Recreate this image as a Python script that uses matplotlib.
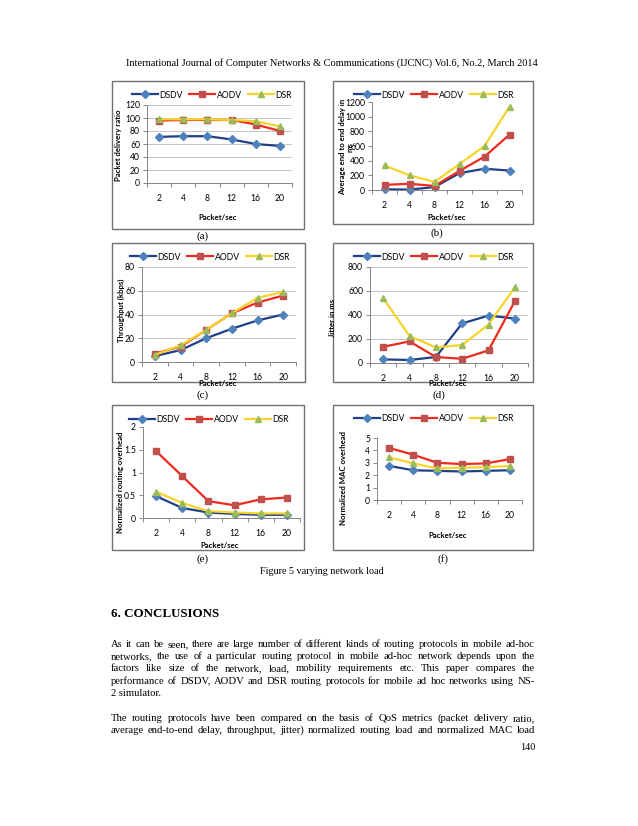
import matplotlib.pyplot as plt
from matplotlib.patches import Rectangle
from matplotlib.font_manager import FontProperties
import numpy as np

W, H = 638, 826
fig = plt.figure(figsize=(W / 100, H / 100), dpi=100)


def fx(x):
    return x / W


def fy(y):
    return 1 - y / H


# data
x_labels = ['2', '4', '8', '12', '16', '20']
names = ['DSDV', 'AODV', 'DSR']

pdr_dsdv = [71, 72, 72, 67, 60, 57]
pdr_aodv = [96, 97, 97, 97, 90, 80]
pdr_dsr = [98, 98, 98, 97, 95, 87]

delay_dsdv = [10, 5, 40, 230, 290, 265]
delay_aodv = [70, 85, 55, 260, 455, 755]
delay_dsr = [335, 200, 110, 355, 600, 1135]

thr_dsdv = [5, 10, 20, 28, 35, 40]
thr_aodv = [7, 13, 27, 41, 50, 56]
thr_dsr = [6, 14, 27, 41, 54, 59]

jit_dsdv = [30, 25, 50, 330, 395, 370]
jit_aodv = [135, 180, 50, 35, 105, 515]
jit_dsr = [540, 225, 130, 150, 320, 630]

nrl_dsdv = [0.48, 0.22, 0.12, 0.09, 0.07, 0.07]
nrl_aodv = [1.47, 0.92, 0.37, 0.28, 0.41, 0.45]
nrl_dsr = [0.58, 0.33, 0.15, 0.12, 0.10, 0.10]

mac_dsdv = [2.75, 2.4, 2.35, 2.3, 2.35, 2.4]
mac_aodv = [4.2, 3.65, 3.0, 2.9, 2.95, 3.3]
mac_dsr = [3.45, 2.95, 2.55, 2.6, 2.65, 2.75]

# styles: line colour, marker colour, marker, size
styles = [('#1f3f86', '#4f81bd', 'D', 3.6),
          ('#ee2a1c', '#c0504d', 's', 4.6),
          ('#f7d42a', '#9bbb59', '^', 4.8)]

panels = [
    dict(series=(pdr_dsdv, pdr_aodv, pdr_dsr), ymax=120, step=20,
         ylabel='Packet delivery ratio', box=(112, 81, 304, 229),
         plot=(147, 105, 292, 183), grid=True, leg=(212, 95),
         ylab=(118, 145), xlab=(218, 217), tag='(a)', tagpos=(203, 236)),
    dict(series=(delay_dsdv, delay_aodv, delay_dsr), ymax=1200, step=200,
         ylabel='Average end to end delay in\nms', box=(333, 81, 533, 224),
         plot=(372, 102, 522, 190), grid=False, leg=(434, 95),
         ylab=(346, 147), xlab=(447, 217), tag='(b)', tagpos=(437, 233)),
    dict(series=(thr_dsdv, thr_aodv, thr_dsr), ymax=80, step=20,
         ylabel='Throughput (kbps)', box=(112, 243, 305, 382),
         plot=(142, 267, 296, 362), grid=True, leg=(210, 257),
         ylab=(121, 310), xlab=(218, 383), tag='(c)', tagpos=(203, 395)),
    dict(series=(jit_dsdv, jit_aodv, jit_dsr), ymax=800, step=200,
         ylabel='Jitter in ms', box=(333, 243, 533, 382),
         plot=(370, 267, 528, 363), grid=True, leg=(434, 257),
         ylab=(332, 318), xlab=(448, 384), tag='(d)', tagpos=(439, 395)),
    dict(series=(nrl_dsdv, nrl_aodv, nrl_dsr), ymax=2, step=0.5,
         ylabel='Normalized routing overhead', box=(112, 405, 304, 550),
         plot=(143, 427, 300, 518), grid=False, leg=(209, 420),
         ylab=(120, 482), xlab=(220, 545), tag='(e)', tagpos=(203, 559)),
    dict(series=(mac_dsdv, mac_aodv, mac_dsr), ymax=5, step=1,
         ylabel='Normalized MAC overhead', box=(333, 405, 533, 550),
         plot=(377, 438, 522, 500), grid=False, leg=(434, 419),
         ylab=(343, 478), xlab=(448, 535), tag='(f)', tagpos=(443, 559)),
]

sans = 'Lato'
serif = 'Liberation Serif'
axcol = '#868686'

for p in panels:
    l, t, r, b = p['box']
    fig.add_artist(Rectangle((fx(l), fy(b)), (r - l) / W, (b - t) / H,
                             transform=fig.transFigure, fill=False,
                             ec='#707070', lw=1.0))
    l, t, r, b = p['plot']
    ax = fig.add_axes([fx(l), fy(b), (r - l) / W, (b - t) / H])
    xs = np.arange(len(x_labels))
    for vals, (lc, mc, mk, ms), name in zip(p['series'], styles, names):
        ax.plot(xs, vals, color=lc, lw=1.6, marker=mk, ms=ms, mfc=mc,
                mec=mc, label=name, clip_on=False)
    ax.set_xlim(-0.5, len(x_labels) - 0.5)
    ax.set_ylim(0, p['ymax'])
    yt = np.arange(0, p['ymax'] + p['step'] / 2, p['step'])
    ax.set_yticks(yt)
    ax.set_yticklabels(['%g' % v for v in yt], fontsize=6.2, family=sans)
    ax.set_xticks(xs)
    ax.set_xticklabels(x_labels, fontsize=6.2, family=sans)
    ax.set_xticks(np.arange(-0.5, len(x_labels)), minor=True)
    ax.tick_params(axis='x', which='major', length=0, pad=8)
    ax.tick_params(axis='x', which='minor', length=3, color=axcol, width=0.7)
    ax.tick_params(axis='y', length=3, color=axcol, width=0.7, pad=2)
    for s in ['top', 'right']:
        ax.spines[s].set_visible(False)
    for s in ['left', 'bottom']:
        ax.spines[s].set_color(axcol)
        ax.spines[s].set_linewidth(0.7)
    if p['grid']:
        ax.yaxis.grid(True, color='#c4c4c4', lw=0.7)
        ax.set_axisbelow(True)
    ax.legend(loc='center', bbox_to_anchor=(fx(p['leg'][0]), fy(p['leg'][1])),
              bbox_transform=fig.transFigure, ncol=3, frameon=False,
              prop=FontProperties(family=sans, size=6.2), handlelength=3.0,
              columnspacing=0.7, handletextpad=0.2, borderpad=0,
              borderaxespad=0)
    fig.text(fx(p['ylab'][0]), fy(p['ylab'][1]), p['ylabel'], rotation=90,
             ha='center', va='center', fontsize=5.6, fontweight='bold',
             family=sans, multialignment='center', linespacing=1.0)
    fig.text(fx(p['xlab'][0]), fy(p['xlab'][1]), 'Packet/sec', ha='center',
             va='center', fontsize=5.6, fontweight='bold', family=sans)
    fig.text(fx(p['tagpos'][0]), fy(p['tagpos'][1]), p['tag'], ha='center',
             va='center', fontsize=8, family=serif)

# page text
fig.text(fx(332), fy(63), 'International Journal of Computer Networks & '
         'Communications (IJCNC) Vol.6, No.2, March 2014',
         ha='center', va='center', fontsize=7.45, family=serif)
fig.text(fx(322), fy(571), 'Figure 5 varying network load', ha='center',
         va='center', fontsize=7.3, family=serif)
fig.text(fx(111), fy(614), '6. CONCLUSIONS', ha='left', va='center',
         fontsize=9.4, fontweight='bold', family=serif)
fig.text(fx(535), fy(747), '140', ha='right', va='center', fontsize=7.3,
         family=serif)

para1 = ['As it can be seen, there are large number of different kinds of routing protocols in mobile ad-hoc',
         'networks, the use of a particular routing protocol in mobile ad-hoc network depends upon the',
         'factors like size of the network, load, mobility requirements etc. This paper compares the',
         'performance of DSDV, AODV and DSR routing protocols for mobile ad hoc networks using NS-',
         '2 simulator.']
para2 = ['The routing protocols have been compared on the basis of QoS metrics (packet delivery ratio,',
         'average end-to-end delay, throughput, jitter) normalized routing load and normalized MAC load']

body_fp = FontProperties(family=serif, size=7.7)
rend = fig.canvas.get_renderer()


def text_w(s):
    return rend.get_text_width_height_descent(s, body_fp, ismath=False)[0]


def justified(lines, y0, dy, x0=111, x1=535, last_full=False):
    # words placed one by one so each full line spans x0..x1
    for i, line in enumerate(lines):
        y = y0 + i * dy + 3  # baseline
        words = line.split()
        last = (i == len(lines) - 1) and not last_full
        if last or len(words) == 1:
            fig.text(fx(x0), fy(y), line, ha='left', va='baseline',
                     fontproperties=body_fp)
            continue
        widths = [text_w(w) for w in words]
        gap = (x1 - x0 - sum(widths)) / (len(words) - 1)
        x = x0
        for w, wd in zip(words, widths):
            fig.text(fx(x), fy(y), w, ha='left', va='baseline',
                     fontproperties=body_fp)
            x += wd + gap


justified(para1, 644, 12.2)
justified(para2, 718, 12.2, last_full=True)

fig.savefig('out.png', dpi=100)
